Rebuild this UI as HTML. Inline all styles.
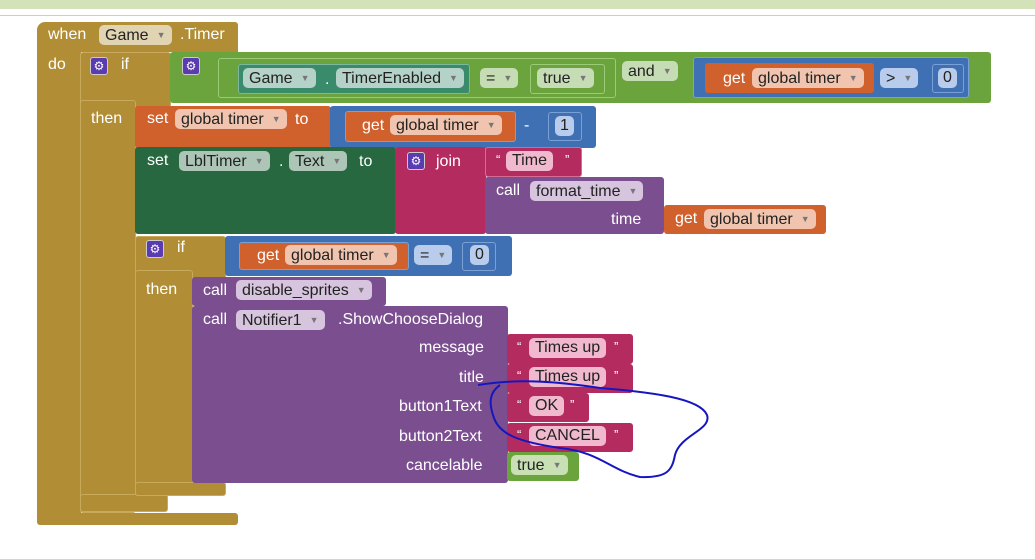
<!DOCTYPE html><html><head><style>
body{margin:0;width:1035px;height:559px;background:#fff;position:relative;overflow:hidden;font-family:"Liberation Sans",sans-serif;font-size:16px}
.b{position:absolute;box-sizing:border-box;border-radius:3px}
.t{position:absolute;color:#fff;white-space:nowrap;line-height:20px}
.p{position:absolute;background:rgba(255,255,255,.62);color:#222;border-radius:5px;white-space:nowrap;line-height:20px;padding:0 6px;height:20px}
.p i{font-style:normal;font-size:9px;color:#777;margin-left:8px;vertical-align:2px}
.g{position:absolute;width:16px;height:16px;background:#5b3bb0;border:1px solid #ccc;border-radius:3px;color:#fff;font-size:12px;text-align:center;line-height:16px}
</style></head><body>
<div style="position:absolute;left:0;top:0;width:1035px;height:9px;background:#d3e2b8"></div>
<div style="position:absolute;left:0;top:15px;width:1035px;height:1px;background:#ccc"></div>

<!-- event block -->
<div class="b" style="left:37px;top:22px;width:201px;height:30px;background:#b18e35;border-radius:8px 3px 0 0"></div>
<div class="b" style="left:37px;top:48px;width:44px;height:477px;background:#b18e35;border-radius:0 0 0 4px"></div>
<div class="b" style="left:37px;top:513px;width:201px;height:12px;background:#b18e35"></div>
<div class="t" style="left:48px;top:25px">when</div>
<div class="p" style="left:99px;top:25px">Game<i>▼</i></div>
<div class="t" style="left:180px;top:25px">.Timer</div>
<div class="t" style="left:48px;top:55px">do</div>

<!-- outer if -->
<div class="b" style="left:80px;top:52px;width:91px;height:56px;background:#b18e35;border:1px solid #c9aa5c"></div>
<div class="b" style="left:80px;top:100px;width:56px;height:413px;background:#b18e35;border:1px solid #c9aa5c"></div>
<div class="b" style="left:80px;top:494px;width:88px;height:18px;background:#b18e35;border:1px solid #c9aa5c"></div>
<div class="g" style="left:90px;top:57px">⚙</div>
<div class="t" style="left:121px;top:55px">if</div>
<div class="t" style="left:91px;top:109px">then</div>

<!-- and block -->
<div class="b" style="left:170px;top:52px;width:821px;height:51px;background:#6ba33d"></div>
<div class="g" style="left:182px;top:57px">⚙</div>
<div class="b" style="left:218px;top:58px;width:398px;height:40px;background:#6ba33d;border:1px solid #9ccb77"></div>
<div class="b" style="left:238px;top:64px;width:232px;height:30px;background:#3a8a6c;border:1px solid #7ab8a0"></div>
<div class="p" style="left:243px;top:68px">Game<i>▼</i></div>
<div class="t" style="left:325px;top:70px">.</div>
<div class="p" style="left:336px;top:68px">TimerEnabled<i>▼</i></div>
<div class="p" style="left:480px;top:68px">=<i>▼</i></div>
<div class="b" style="left:530px;top:64px;width:75px;height:30px;background:#6ba33d;border:1px solid #9ccb77"></div>
<div class="p" style="left:537px;top:68px">true<i>▼</i></div>
<div class="p" style="left:622px;top:61px">and<i>▼</i></div>
<div class="b" style="left:693px;top:57px;width:276px;height:41px;background:#3f70b4;border:1px solid #7aa0d6"></div>
<div class="b" style="left:705px;top:63px;width:169px;height:30px;background:#d0612c"></div>
<div class="t" style="left:723px;top:69px">get</div>
<div class="p" style="left:752px;top:68px;background:#f0c4ae">global timer<i>▼</i></div>
<div class="p" style="left:880px;top:68px;background:#b9cceb">&gt;<i>▼</i></div>
<div class="b" style="left:932px;top:64px;width:32px;height:29px;border:1px solid #7aa0d6"></div>
<div class="p" style="left:938px;top:68px;background:#b9cceb;padding:0 5px">0</div>

<!-- set global timer -->
<div class="b" style="left:135px;top:106px;width:196px;height:42px;background:#d0612c"></div>
<div class="t" style="left:147px;top:109px">set</div>
<div class="p" style="left:175px;top:109px;background:#f0c4ae">global timer<i>▼</i></div>
<div class="t" style="left:295px;top:110px">to</div>
<div class="b" style="left:330px;top:106px;width:266px;height:42px;background:#3f70b4"></div>
<div class="b" style="left:345px;top:111px;width:171px;height:31px;background:#d0612c;border:1px solid #7aa0d6"></div>
<div class="t" style="left:362px;top:116px">get</div>
<div class="p" style="left:390px;top:115px;background:#f0c4ae">global timer<i>▼</i></div>
<div class="t" style="left:524px;top:116px">-</div>
<div class="b" style="left:548px;top:112px;width:34px;height:29px;border:1px solid #7aa0d6"></div>
<div class="p" style="left:555px;top:116px;background:#b9cceb;padding:0 5px">1</div>

<!-- set LblTimer -->
<div class="b" style="left:135px;top:147px;width:261px;height:87px;background:#276841"></div>
<div class="t" style="left:147px;top:151px">set</div>
<div class="p" style="left:179px;top:151px">LblTimer<i>▼</i></div>
<div class="t" style="left:279px;top:152px">.</div>
<div class="p" style="left:289px;top:151px">Text<i>▼</i></div>
<div class="t" style="left:359px;top:152px">to</div>
<div class="b" style="left:395px;top:147px;width:91px;height:87px;background:#b42c5f"></div>
<div class="g" style="left:407px;top:152px">⚙</div>
<div class="t" style="left:436px;top:152px">join</div>
<div class="b" style="left:485px;top:147px;width:97px;height:30px;background:#b42c5f;border:1px solid #d56a92"></div>
<div class="t" style="left:496px;top:150px;font-size:13px">“</div>
<div class="p" style="left:506px;top:151px;background:#f0b9ce">Time</div>
<div class="t" style="left:565px;top:150px;font-size:13px">”</div>
<div class="b" style="left:485px;top:177px;width:179px;height:57px;background:#7b4f8f"></div>
<div class="t" style="left:496px;top:181px">call</div>
<div class="p" style="left:530px;top:181px;background:#d7c4de">format_time<i>▼</i></div>
<div class="t" style="left:611px;top:210px">time</div>
<div class="b" style="left:664px;top:205px;width:162px;height:29px;background:#d0612c"></div>
<div class="t" style="left:675px;top:209px">get</div>
<div class="p" style="left:704px;top:209px;background:#f0c4ae">global timer<i>▼</i></div>

<!-- inner if -->
<div class="b" style="left:135px;top:236px;width:91px;height:44px;background:#b18e35;border:1px solid #c9aa5c"></div>
<div class="b" style="left:135px;top:270px;width:58px;height:226px;background:#b18e35;border:1px solid #c9aa5c"></div>
<div class="b" style="left:135px;top:482px;width:91px;height:14px;background:#b18e35;border:1px solid #c9aa5c"></div>
<div class="g" style="left:146px;top:240px">⚙</div>
<div class="t" style="left:177px;top:238px">if</div>
<div class="t" style="left:146px;top:280px">then</div>
<div class="b" style="left:225px;top:236px;width:287px;height:40px;background:#3f70b4"></div>
<div class="b" style="left:239px;top:242px;width:170px;height:28px;background:#d0612c;border:1px solid #7aa0d6"></div>
<div class="t" style="left:257px;top:246px">get</div>
<div class="p" style="left:285px;top:245px;background:#f0c4ae">global timer<i>▼</i></div>
<div class="p" style="left:414px;top:245px;background:#b9cceb">=<i>▼</i></div>
<div class="b" style="left:462px;top:242px;width:34px;height:29px;border:1px solid #7aa0d6"></div>
<div class="p" style="left:470px;top:245px;background:#b9cceb;padding:0 5px">0</div>

<!-- calls -->
<div class="b" style="left:192px;top:277px;width:194px;height:29px;background:#7b4f8f"></div>
<div class="t" style="left:203px;top:281px">call</div>
<div class="p" style="left:236px;top:280px;background:#d7c4de">disable_sprites<i>▼</i></div>
<div class="b" style="left:192px;top:306px;width:316px;height:177px;background:#7b4f8f"></div>
<div class="t" style="left:203px;top:310px">call</div>
<div class="p" style="left:236px;top:310px;background:#d7c4de">Notifier1<i>▼</i></div>
<div class="t" style="left:338px;top:310px">.ShowChooseDialog</div>
<div class="t" style="left:419px;top:338px">message</div>
<div class="t" style="left:459px;top:368px">title</div>
<div class="t" style="left:399px;top:397px">button1Text</div>
<div class="t" style="left:399px;top:427px">button2Text</div>
<div class="t" style="left:406px;top:456px">cancelable</div>

<div class="b" style="left:507px;top:334px;width:126px;height:30px;background:#b42c5f"></div>
<div class="t" style="left:517px;top:337px;font-size:13px">“</div>
<div class="p" style="left:529px;top:338px;background:#f0b9ce">Times up</div>
<div class="t" style="left:614px;top:337px;font-size:13px">”</div>
<div class="b" style="left:507px;top:364px;width:126px;height:29px;background:#b42c5f"></div>
<div class="t" style="left:517px;top:366px;font-size:13px">“</div>
<div class="p" style="left:529px;top:367px;background:#f0b9ce">Times up</div>
<div class="t" style="left:614px;top:366px;font-size:13px">”</div>
<div class="b" style="left:507px;top:393px;width:82px;height:29px;background:#b42c5f"></div>
<div class="t" style="left:517px;top:395px;font-size:13px">“</div>
<div class="p" style="left:529px;top:396px;background:#f0b9ce">OK</div>
<div class="t" style="left:570px;top:395px;font-size:13px">”</div>
<div class="b" style="left:507px;top:423px;width:126px;height:29px;background:#b42c5f"></div>
<div class="t" style="left:517px;top:425px;font-size:13px">“</div>
<div class="p" style="left:529px;top:426px;background:#f0b9ce">CANCEL</div>
<div class="t" style="left:614px;top:425px;font-size:13px">”</div>
<div class="b" style="left:507px;top:452px;width:72px;height:29px;background:#6ba33d"></div>
<div class="p" style="left:511px;top:455px;background:#c8e0b4">true<i>▼</i></div>

<svg style="position:absolute;left:0;top:0" width="1035" height="559">
<path d="M478,385 C520,378 560,382 600,388 C650,392 700,398 707,415 C712,430 680,435 675,455 C672,470 668,478 640,477 C610,470 600,452 560,448 C520,442 500,435 494,418 C488,402 490,392 500,385" fill="none" stroke="#1616c0" stroke-width="2"/>
</svg>
</body></html>
